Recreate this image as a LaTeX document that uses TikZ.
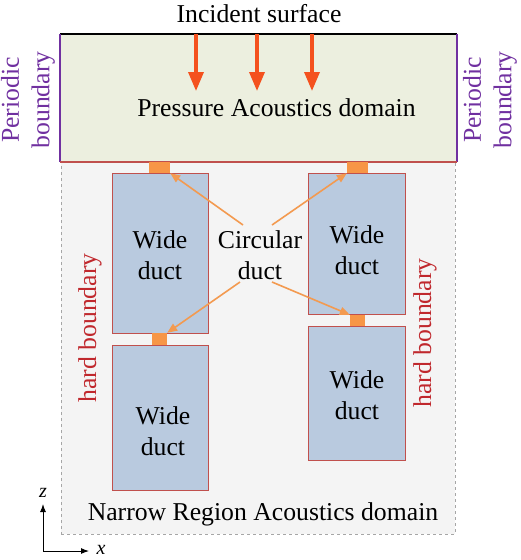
\documentclass[tikz,border=0pt]{standalone}
\usepackage{fontspec}
\setmainfont{Liberation Serif}
\usetikzlibrary{arrows.meta,calc}
\definecolor{padfill}{HTML}{ECEFDF}
\definecolor{narfill}{HTML}{F4F4F4}
\definecolor{ductfill}{HTML}{B9CADF}
\definecolor{ductline}{HTML}{C0504D}
\definecolor{conn}{HTML}{F79646}
\definecolor{carrow}{HTML}{F39A50}
\definecolor{incid}{HTML}{F4511E}
\definecolor{perio}{HTML}{7030A0}
\definecolor{hardred}{HTML}{C0282D}
\begin{document}
\begin{tikzpicture}[x=1pt,y=-1pt,
  every node/.style={font=\fontsize{25.7}{30.5}\selectfont},
  duct/.style={draw=ductline,fill=ductfill,line width=1pt,inner sep=0pt},
  connbox/.style={fill=conn,inner sep=0pt},
  txt/.style={align=center,inner sep=0pt},
  carr/.style={draw=carrow,line width=1.6pt,-{Triangle[length=10pt,width=8pt]}},
  iarr/.style={draw=incid,line width=3.5pt,-{Triangle[length=19pt,width=15pt]}}]
\useasboundingbox (0,0) rectangle (520,560);
% lower narrow region
\node[draw=gray!70,dashed,fill=narfill,line width=0.8pt,inner sep=0pt,
  minimum width=394pt,minimum height=372pt] (nar) at (258,348) {};
% top pressure domain
\node[fill=padfill,inner sep=0pt,minimum width=397pt,minimum height=128pt] (pad) at (258.5,98) {};
\draw[black,line width=1.5pt] (pad.north west) -- (pad.north east);
\draw[perio,line width=1.5pt] (pad.north west) -- (pad.south west);
\draw[perio,line width=1.5pt] (pad.north east) -- (pad.south east);
\draw[ductline,line width=1.5pt] (pad.south west) -- (pad.south east);
% ducts
\node[duct,minimum width=96pt,minimum height=160pt] (d1) at (160,253) {};
\node[duct,minimum width=96pt,minimum height=145pt] (d2) at (160,417.5) {};
\node[duct,minimum width=97pt,minimum height=141pt] (d3) at (356.5,244) {};
\node[duct,minimum width=97pt,minimum height=134pt] (d4) at (356.5,393) {};
% connectors
\node[connbox,minimum width=21pt,minimum height=11pt] (c1) at (159.5,167.5) {};
\node[connbox,minimum width=15pt,minimum height=12pt] (c2) at (159.5,339) {};
\node[connbox,minimum width=21pt,minimum height=11pt] (c3) at (357.5,167.5) {};
\node[connbox,minimum width=15pt,minimum height=11pt] (c4) at (357.5,320.5) {};
% texts
\node[txt] (inc) at (259,14) {Incident surface};
\node[txt] (pat) at (276.5,108) {Pressure Acoustics domain};
\node[txt] (nat) at (263,514) {Narrow Region Acoustics domain};
\node[txt] (w1) at (160,255) {Wide\\duct};
\node[txt] (w2) at (163,431) {Wide\\duct};
\node[txt] (w3) at (357,250) {Wide\\duct};
\node[txt] (w4) at (357,395) {Wide\\duct};
\node[txt] (circ) at (260,255) {Circular\\duct};
\node[txt,rotate=90,text=perio] (pl) at (28,100) {Periodic\\boundary};
\node[txt,rotate=90,text=perio] (pr) at (490,100) {Periodic\\boundary};
\node[txt,rotate=90,text=hardred] (hl) at (90,328) {hard boundary};
\node[txt,rotate=90,text=hardred] (hr) at (425,333) {hard boundary};
% circular duct arrows
\coordinate (s1) at (243,225);
\coordinate (s2) at (272,225);
\coordinate (s3) at (240,282);
\coordinate (s4) at (272,282);
\draw[carr] (s1) -- (c1.south east);
\draw[carr] (s2) -- (c3.south west);
\draw[carr] (s3) -- (c2.north east);
\draw[carr] (s4) -- (c4.north west);
% incident arrows
\coordinate (i1a) at (196,34); \coordinate (i1b) at (196,91);
\coordinate (i2a) at (257,34); \coordinate (i2b) at (257,91);
\coordinate (i3a) at (312,34); \coordinate (i3b) at (312,91);
\draw[iarr] (i1a) -- (i1b);
\draw[iarr] (i2a) -- (i2b);
\draw[iarr] (i3a) -- (i3b);
% axes
\coordinate (o) at (43,551);
\coordinate (zt) at (43,504);
\coordinate (xt) at (89,551);
\draw[line width=1pt,-{Latex[length=8pt,width=6pt]}] (o) -- (zt);
\draw[line width=1pt,-{Latex[length=8pt,width=6pt]}] (o) -- (xt);
\node[font=\fontsize{20}{22}\selectfont\itshape,inner sep=0pt] (zl) at (43,493) {z};
\node[font=\fontsize{20}{22}\selectfont\itshape,inner sep=0pt] (xl) at (101,550) {x};
\end{tikzpicture}
\end{document}
